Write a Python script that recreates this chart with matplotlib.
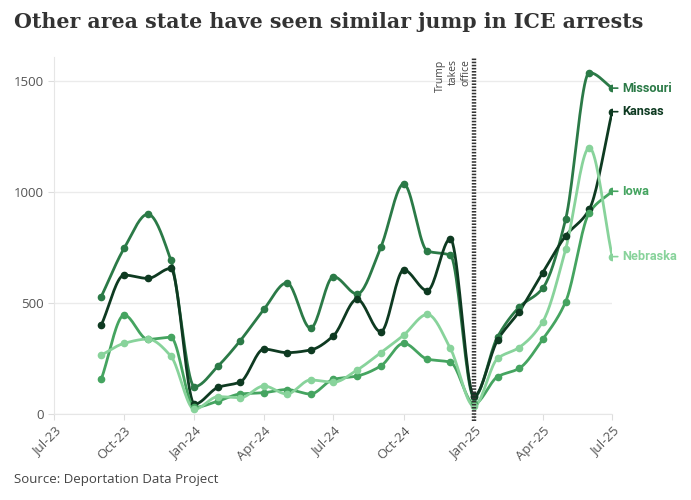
import matplotlib
matplotlib.use('Agg')
import matplotlib.pyplot as plt
import matplotlib.dates as mdates
import numpy as np
import pandas as pd

# 数据：每月 ICE 逮捕人数（2023-09 至 2025-07）
months = pd.date_range('2023-09-01', '2025-07-01', freq='MS')

missouri = [528, 746, 899, 693, 123, 216, 330, 471, 590, 386, 618, 540, 750, 1035,
            733, 715, 75, 348, 480, 566, 876, 1536, 1466]
kansas = [400, 625, 610, 655, 44, 120, 144, 292, 276, 288, 352, 516, 370, 648,
          555, 788, 80, 333, 460, 636, 801, 921, 1360]
iowa = [156, 445, 336, 345, 30, 58, 90, 96, 110, 90, 156, 171, 216, 318,
        247, 233, 45, 168, 205, 336, 505, 906, 1002]
nebraska = [265, 318, 337, 261, 21, 78, 73, 126, 90, 153, 143, 198, 276, 355,
            448, 296, 35, 250, 299, 415, 741, 1198, 708]

states = ['Missouri', 'Kansas', 'Iowa', 'Nebraska']
series = [missouri, kansas, iowa, nebraska]
colors = ['#2b7a47', '#0e3a21', '#45a460', '#88d39b']

xticks = pd.date_range('2023-07-01', '2025-07-01', freq='QS')
trump_date = pd.Timestamp('2025-01-01')


def monotone(x, y, n=20):
    # 单调三次插值，只用于画平滑曲线
    x = np.asarray(x, float)
    y = np.asarray(y, float)
    h = np.diff(x)
    d = np.diff(y) / h
    m = np.zeros_like(y)
    m[0], m[-1] = d[0], d[-1]
    for i in range(1, len(y) - 1):
        if d[i - 1] * d[i] <= 0:
            m[i] = 0
        else:
            w1 = 2 * h[i] + h[i - 1]
            w2 = h[i] + 2 * h[i - 1]
            m[i] = (w1 + w2) / (w1 / d[i - 1] + w2 / d[i])
    xs, ys = [], []
    for i in range(len(x) - 1):
        t = np.linspace(0, 1, n, endpoint=False)
        h00 = 2 * t**3 - 3 * t**2 + 1
        h10 = t**3 - 2 * t**2 + t
        h01 = -2 * t**3 + 3 * t**2
        h11 = t**3 - t**2
        xs.append(x[i] + t * h[i])
        ys.append(h00 * y[i] + h10 * h[i] * m[i] + h01 * y[i + 1] + h11 * h[i] * m[i + 1])
    xs.append([x[-1]])
    ys.append([y[-1]])
    return np.concatenate(xs), np.concatenate(ys)


plt.rcParams['font.family'] = ['Open Sans', 'DejaVu Sans']

fig = plt.figure(figsize=(6.91, 5.0), dpi=100)
ax = fig.add_axes([0.078, 0.172, 0.808, 0.714])

xnum = mdates.date2num(months)
for name, vals, c in zip(states, series, colors):
    sx, sy = monotone(xnum, vals)
    ax.plot(sx, sy, color=c, lw=2.0, solid_capstyle='round', zorder=3)
    ax.plot(xnum, vals, 'o', color=c, ms=4.5, zorder=4)
    ax.annotate(name, xy=(xnum[-1], vals[-1]), xytext=(7, 0), textcoords='offset points',
                va='center', ha='left', color=c, fontsize=9.2, fontweight='bold',
                family=['Roboto', 'DejaVu Sans'],
                arrowprops=dict(arrowstyle='-', color=c, lw=1.2, shrinkA=1, shrinkB=0),
                annotation_clip=False)

# 特朗普上任
ax.axvline(mdates.date2num(trump_date), ymin=-0.02, ymax=1, color='#333333', lw=3.2,
           linestyle=(0, (0.35, 0.35)), clip_on=False, zorder=5)
ax.text(mdates.date2num(trump_date) - 3, 1595, 'Trump\ntakes\noffice', rotation=90,
        ha='right', va='top', multialignment='right', fontsize=7.5, color='#444444',
        linespacing=1.25)

ax.set_xlim(mdates.date2num(xticks[0]), mdates.date2num(xticks[-1]))
ax.set_ylim(0, 1606)
ax.set_yticks([0, 500, 1000, 1500])
ax.set_xticks(mdates.date2num(xticks))
ax.set_xticklabels([d.strftime('%b-%y') for d in xticks], rotation=45, ha='right',
                   rotation_mode='anchor')
ax.tick_params(axis='both', colors='#dddddd', labelcolor='#555555', labelsize=9.5,
               length=4, width=0.8)
ax.grid(axis='y', color='#ebebeb', lw=1)
ax.set_axisbelow(True)
for s in ['top', 'right']:
    ax.spines[s].set_visible(False)
for s in ['left', 'bottom']:
    ax.spines[s].set_color('#e6e6e6')

fig.text(0.02, 0.957, 'Other area state have seen similar jump in ICE arrests',
         family='DejaVu Serif', fontweight='bold', fontsize=14.8, color='#333333',
         va='center', ha='left')
fig.text(0.02, 0.04, 'Source: Deportation Data Project', fontsize=9.5, color='#444444',
         va='center', ha='left')

fig.savefig('out.png', dpi=100)
